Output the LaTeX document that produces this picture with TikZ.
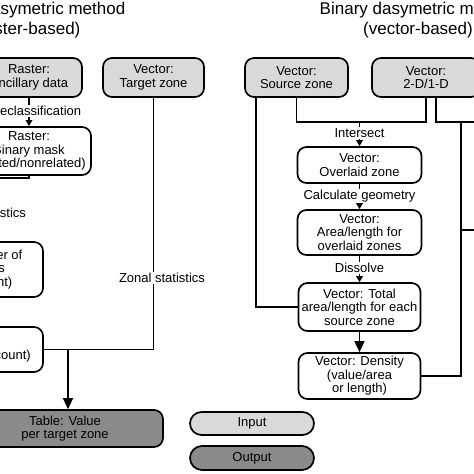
\documentclass[tikz,border=0pt]{standalone}
\usepackage{fontspec}
\setmainfont{Liberation Sans}
\usetikzlibrary{arrows.meta}
\definecolor{lgray}{gray}{0.85}
\definecolor{dgray}{gray}{0.54}
\begin{document}
\begin{tikzpicture}[x=1pt,y=-1pt,
  box/.style={draw, line width=1.7pt, rounded corners=9pt, align=center, inner sep=0pt, font=\fontsize{13}{13.5}\selectfont},
  inbox/.style={box, fill=lgray},
  outbox/.style={box, fill=dgray},
  lbl/.style={fill=white, inner sep=1pt, font=\fontsize{13}{13.5}\selectfont},
  conn/.style={line width=1.5pt},
  arr/.style={conn, -{Triangle[length=6pt,width=6.5pt]}},
  bigarr/.style={conn, -{Triangle[length=11pt,width=10pt]}},
  ttl/.style={align=center, font=\fontsize{17}{20}\selectfont}]
\useasboundingbox (0,0) rectangle (474,474);
\clip (0,0) rectangle (474,474);

% titles
\node[ttl] (tl) at (27,20) {Binary dasymetric method\\(raster-based)};
\node[ttl] (tr) at (418,20) {Binary dasymetric method\\(vector-based)};

% left column
\node[inbox, minimum width=106pt, minimum height=39pt] (anc) at (29,77.5) {Raster:\\Ancillary data};
\node[inbox, minimum width=101pt, minimum height=39pt] (tgt) at (153.5,77.5) {Vector:\\Target zone};
\node[box, minimum width=124pt, minimum height=48pt] (mask) at (29,151) {Raster:\\Binary mask\\(related/nonrelated)};
\node[box, minimum width=102pt, minimum height=55pt] (num) at (-8,269.5) {Number of\\cells\\(count)};
\node[box, minimum width=130pt, minimum height=45pt] (cnt) at (-22,349.5) {Density\\(value/pixel count)};
\node[outbox, minimum width=196pt, minimum height=37pt] (table) at (65,428.5) {Table: Value\\per target zone};

% right column
\node[inbox, minimum width=103pt, minimum height=39pt] (src) at (296.5,77.5) {Vector:\\Source zone};
\node[inbox, minimum width=108pt, minimum height=39pt] (dim) at (426,77.5) {Vector:\\2-D/1-D};
\node[box, minimum width=124pt, minimum height=36pt] (ovl) at (359.5,165) {Vector:\\Overlaid zone};
\node[box, minimum width=124pt, minimum height=45pt] (area) at (359.5,232.5) {Vector:\\Area/length for\\overlaid zones};
\node[box, minimum width=122pt, minimum height=48pt] (tot) at (359.5,307) {Vector: Total\\area/length for each\\source zone};
\node[box, minimum width=122pt, minimum height=46pt] (den) at (359.5,376) {Vector: Density\\(value/area\\or length)};

% legend
\node[inbox, rounded corners=11.5pt, minimum width=124pt, minimum height=23pt] (inp) at (252,423.5) {Input};
\node[outbox, rounded corners=12pt, minimum width=124pt, minimum height=24pt] (outp) at (252,458) {Output};

% left connectors
\coordinate (c1) at (-17,178);
\draw[arr] (anc.south) -- (mask.north);
\draw[arr] (mask.south) |- (c1) -- (c1 |- num.north);
\draw[arr] (num.south -| c1) -- (c1 |- cnt.north);
\draw[conn] (tgt.south) |- (cnt.east);
\coordinate (j1) at (68,349.5);
\draw[bigarr] (j1) -- (j1 |- table.north);

% right connectors
\coordinate (j2) at (359.5,122);
\draw[conn] (src.south) |- (j2) -| (dim.south);
\draw[arr] (j2) -- (ovl.north);
\draw[arr] (ovl.south) -- (area.north);
\draw[arr] (area.south) -- (tot.north);
\draw[bigarr] (tot.south) -- (den.north);
\draw[conn] ([xshift=12pt]src.south west) |- (tot.west);
\coordinate (e1) at (480,122);
\draw[conn] ([xshift=10pt]dim.south) |- (e1);
\coordinate (j3) at (461,122);
\draw[conn] (j3) |- (den.east);
\coordinate (j4) at (461,230);
\coordinate (e2) at (480,230);
\draw[conn] (j4) -- (e2);

% labels
\node[lbl] (l1) at (36,111) {Reclassification};
\node[lbl] (l2) at (-17,213) {Zonal statistics};
\node[lbl] (l3) at (162,278) {Zonal statistics};
\node[lbl] (l4) at (359.5,133) {Intersect};
\node[lbl] (l5) at (359.5,196) {Calculate geometry};
\node[lbl] (l6) at (359.5,268) {Dissolve};
\end{tikzpicture}
\end{document}
